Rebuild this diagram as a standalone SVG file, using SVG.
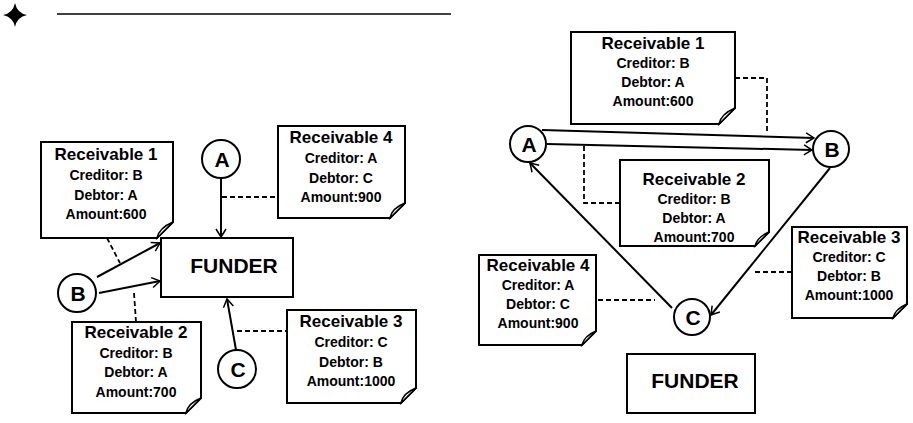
<svg xmlns="http://www.w3.org/2000/svg" width="913" height="423" viewBox="0 0 913 423">
<defs>
<marker id="ah" markerWidth="12" markerHeight="12" refX="10" refY="6" orient="auto" markerUnits="userSpaceOnUse"><path d="M2,1 L10,6 L2,11" fill="none" stroke="#000" stroke-width="1.5"/></marker>
</defs>
<style>
.n{fill:#fff;stroke:#000;stroke-width:2}
.f{fill:#fff;stroke:#000;stroke-width:1.5}
text{font-family:"Liberation Sans",Arial,sans-serif;font-weight:bold;text-anchor:middle;fill:#000}
.t{font-size:17px}.l{font-size:14px}.c{font-size:21px}.fu{font-size:21px}
.e{stroke:#000;stroke-width:2;fill:none;marker-end:url(#ah)}
.d{stroke:#000;stroke-width:1.8;fill:none;stroke-dasharray:5,3}
</style>
<rect width="913" height="423" fill="#fff"/>
<path d="M15,3 Q17,13 27,15 Q17,17 15,27 Q13,17 3,15 Q13,13 15,3Z" fill="#000"/>
<line x1="57" y1="14" x2="451" y2="14" stroke="#000" stroke-width="1.5"/>
<g id="connectors">
<line class="e" x1="221" y1="178" x2="221" y2="237"/>
<line class="e" x1="97" y1="277" x2="160" y2="243"/>
<line class="e" x1="99" y1="293" x2="160" y2="281"/>
<line class="e" x1="236" y1="350" x2="227" y2="299"/>
<path class="d" d="M107,238 L120,263"/>
<path class="d" d="M134,293 L136,322"/>
<path class="d" d="M222,197 L278,197"/>
<path class="d" d="M237,331 L287,331"/>
<line class="e" x1="542" y1="130" x2="814" y2="138"/>
<line class="e" x1="547" y1="144" x2="812" y2="150"/>
<line class="e" x1="830" y1="168" x2="711" y2="315"/>
<line class="e" x1="672" y1="308" x2="530" y2="163"/>
<path class="d" d="M735,78 L767,78 L767,133"/>
<path class="d" d="M584,146 L584,203 L620,203"/>
<path class="d" d="M755,272 L792,272"/>
<path class="d" d="M598,300 L655,300"/>
</g>
<g id="L-rec1"><path class="n" d="M41,142 H173 V222 L157,238 H41Z"/><path class="f" d="M173,222 L157,238 Q159,228 173,222Z"/>
<text class="t" x="106" y="160">Receivable 1</text><text class="l" x="106" y="180">Creditor: B</text><text class="l" x="106" y="200">Debtor: A</text><text class="l" x="106" y="219">Amount:600</text></g>
<g id="L-rec4"><path class="n" d="M278,126 H405 V203 L390,218 H278Z"/><path class="f" d="M405,203 L390,218 Q392,208 405,203Z"/>
<text class="t" x="341" y="143">Receivable 4</text><text class="l" x="341" y="163">Creditor: A</text><text class="l" x="341" y="183">Debtor: C</text><text class="l" x="341" y="202">Amount:900</text></g>
<g id="L-rec2"><path class="n" d="M72,322 H201 V398 L186,413 H72Z"/><path class="f" d="M201,398 L186,413 Q188,403 201,398Z"/>
<text class="t" x="136" y="338">Receivable 2</text><text class="l" x="136" y="358">Creditor: B</text><text class="l" x="136" y="377">Debtor: A</text><text class="l" x="136" y="397">Amount:700</text></g>
<g id="L-rec3"><path class="n" d="M287,310 H416 V388 L401,403 H287Z"/><path class="f" d="M416,388 L401,403 Q403,393 416,388Z"/>
<text class="t" x="351" y="327">Receivable 3</text><text class="l" x="351" y="347">Creditor: C</text><text class="l" x="351" y="367">Debtor: B</text><text class="l" x="351" y="386">Amount:1000</text></g>
<g id="L-funder"><rect class="n" x="161" y="238" width="132" height="59"/><text class="fu" x="234" y="273">FUNDER</text></g>
<g id="L-A"><circle class="n" cx="221" cy="159" r="19"/><text class="c" x="222" y="167">A</text></g>
<g id="L-B"><circle class="n" cx="77" cy="293" r="19"/><text class="c" x="78" y="301">B</text></g>
<g id="L-C"><circle class="n" cx="237" cy="369" r="19"/><text class="c" x="238" y="377">C</text></g>
<g id="R-rec1"><path class="n" d="M571,32 H735 V108 L719,124 H571Z"/><path class="f" d="M735,108 L719,124 Q721,114 735,108Z"/>
<text class="t" x="653" y="49">Receivable 1</text><text class="l" x="653" y="68">Creditor: B</text><text class="l" x="653" y="87">Debtor: A</text><text class="l" x="653" y="106">Amount:600</text></g>
<g id="R-rec2"><path class="n" d="M620,160 H769 V232 L755,246 H620Z"/><path class="f" d="M769,232 L755,246 Q757,237 769,232Z"/>
<text class="t" x="694" y="185">Receivable 2</text><text class="l" x="694" y="204">Creditor: B</text><text class="l" x="694" y="223">Debtor: A</text><text class="l" x="694" y="242">Amount:700</text></g>
<g id="R-rec3"><path class="n" d="M792,227 H907 V304 L893,318 H792Z"/><path class="f" d="M907,304 L893,318 Q895,309 907,304Z"/>
<text class="t" x="849" y="243">Receivable 3</text><text class="l" x="849" y="262">Creditor: C</text><text class="l" x="849" y="281">Debtor: B</text><text class="l" x="849" y="300">Amount:1000</text></g>
<g id="R-rec4"><path class="n" d="M479,255 H596 V331 L582,345 H479Z"/><path class="f" d="M596,331 L582,345 Q584,336 596,331Z"/>
<text class="t" x="538" y="271">Receivable 4</text><text class="l" x="538" y="290">Creditor: A</text><text class="l" x="538" y="309">Debtor: C</text><text class="l" x="538" y="328">Amount:900</text></g>
<g id="R-funder"><rect class="n" x="627" y="354" width="128" height="59"/><text class="fu" x="695" y="388">FUNDER</text></g>
<g id="R-A"><circle class="n" cx="528" cy="144" r="18"/><text class="c" x="529" y="152">A</text></g>
<g id="R-B"><circle class="n" cx="831" cy="149" r="18"/><text class="c" x="832" y="157">B</text></g>
<g id="R-C"><circle class="n" cx="692" cy="317" r="18"/><text class="c" x="693" y="325">C</text></g>
</svg>
